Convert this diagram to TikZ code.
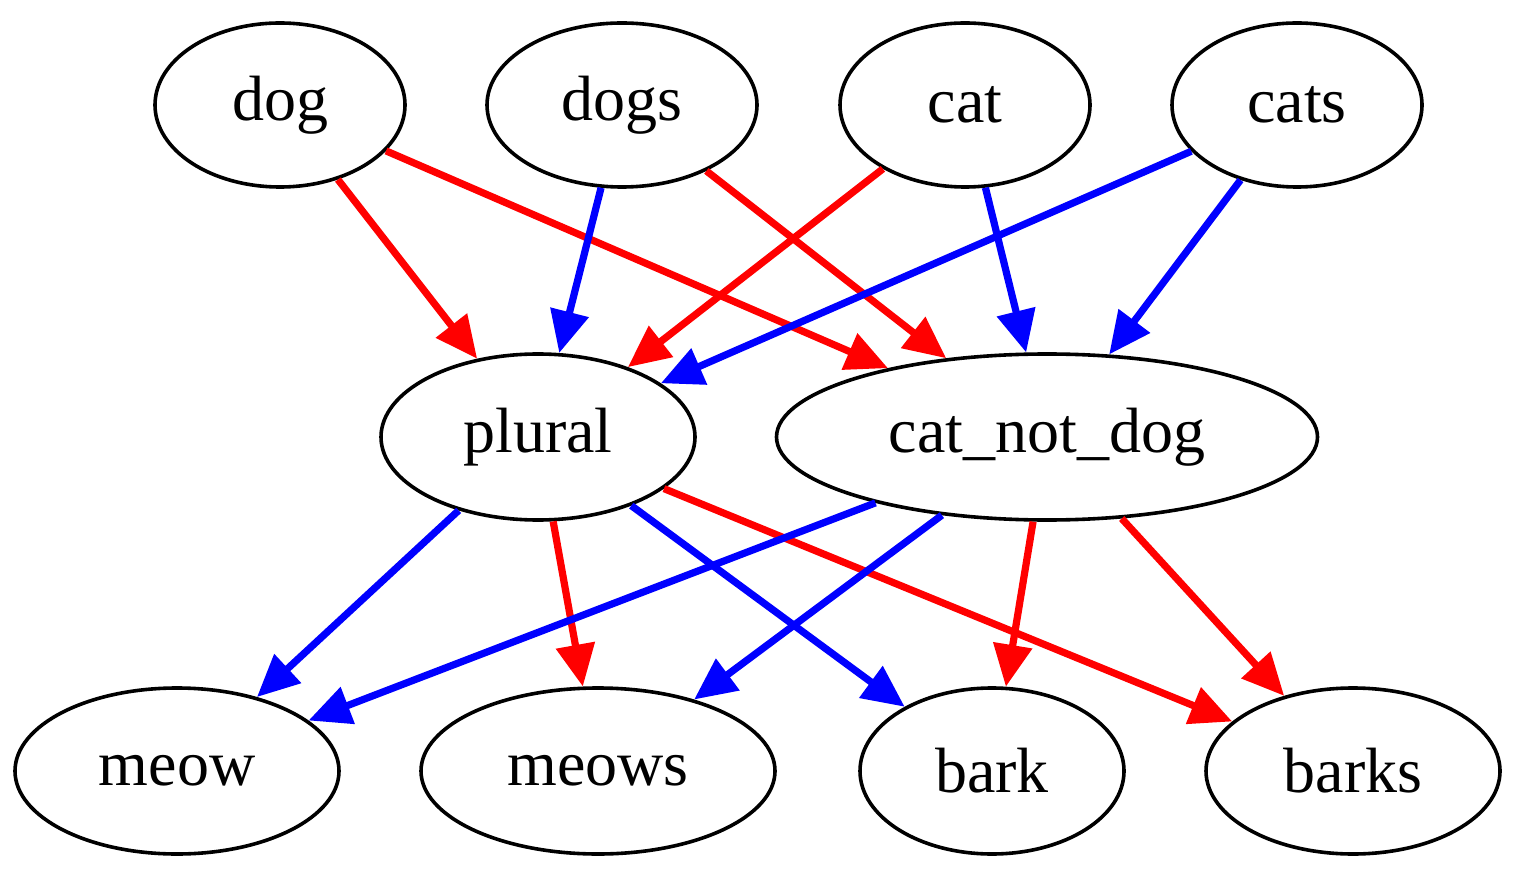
\documentclass[tikz,border=0pt]{standalone}
\usepackage{fontspec}
\setmainfont{Liberation Serif}
\usetikzlibrary{shapes.geometric,arrows.meta}
\begin{document}
\begin{tikzpicture}[x=0.5pt,y=-0.5pt,
  nd/.style={ellipse,draw,line width=1.8pt,inner sep=0pt,font=\fontsize{32}{32}\selectfont},
  ed/.style={line width=3.6pt,-{Triangle[length=21pt,width=19pt]}},
  r/.style={ed,red},b/.style={ed,blue}]
\useasboundingbox (0,0) rectangle (1518,876);
\node[nd,minimum width=250*0.5pt,minimum height=164*0.5pt] (dog) at (280,105) {dog};
\node[nd,minimum width=270*0.5pt,minimum height=164*0.5pt] (dogs) at (622,105) {dogs};
\node[nd,minimum width=250*0.5pt,minimum height=164*0.5pt] (cat) at (965,105) {cat};
\node[nd,minimum width=250*0.5pt,minimum height=164*0.5pt] (cats) at (1297,105) {cats};
\node[nd,minimum width=314*0.5pt,minimum height=166*0.5pt] (plural) at (538,437) {plural};
\node[nd,minimum width=541*0.5pt,minimum height=166*0.5pt] (cnd) at (1047,437) {cat\_not\_dog};
\node[nd,minimum width=324*0.5pt,minimum height=166*0.5pt] (meow) at (177,771) {meow};
\node[nd,minimum width=354*0.5pt,minimum height=166*0.5pt] (meows) at (598,771) {meows};
\node[nd,minimum width=264*0.5pt,minimum height=166*0.5pt] (bark) at (992,771) {bark};
\node[nd,minimum width=294*0.5pt,minimum height=166*0.5pt] (barks) at (1353,771) {barks};
\draw[r] (dog) -- (plural);
\draw[r] (dog) -- (cnd);
\draw[b] (dogs) -- (plural);
\draw[r] (dogs) -- (cnd);
\draw[r] (cat) -- (plural);
\draw[b] (cat) -- (cnd);
\draw[b] (cats) -- (plural);
\draw[b] (cats) -- (cnd);
\draw[b] (plural) -- (meow);
\draw[r] (plural) -- (meows);
\draw[b] (plural) -- (bark);
\draw[r] (plural) -- (barks);
\draw[b] (cnd) -- (meow);
\draw[b] (cnd) -- (meows);
\draw[r] (cnd) -- (bark);
\draw[r] (cnd) -- (barks);
\end{tikzpicture}
\end{document}
